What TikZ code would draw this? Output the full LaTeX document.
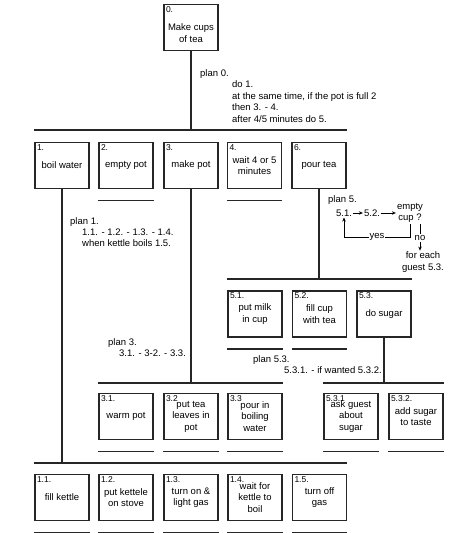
\documentclass[tikz,border=0pt]{standalone}
\usepackage{fontspec}
\setmainfont{Liberation Sans}
\usetikzlibrary{arrows.meta,positioning,calc}

\begin{document}
\begin{tikzpicture}[
    x=1pt, y=-1pt,
    every node/.style={font=\fontsize{9.5}{11.5}\selectfont},
    task/.style={rectangle, draw=black!85, line width=1.2pt, minimum width=54pt,
                 minimum height=46pt, inner sep=1pt, align=center},
    num/.style={anchor=north west, inner sep=2.4pt, font=\fontsize{8.5}{9}\selectfont},
    link/.style={line width=1.4pt, draw=black!85},
    stopline/.style={line width=1.4pt, draw=black!85},
    plan/.style={anchor=north west, inner sep=0pt, align=left},
    arrow/.style={-{Stealth[length=4pt, width=3.5pt]}, line width=0.8pt},
    small/.style={inner sep=1pt, align=center}
]
\useasboundingbox (0,0) rectangle (474,533);

% Top task
\node[task] (t0) at (191,27.5) {\parbox[c][30pt][b]{50pt}{\centering Make cups\\of tea}};
\node[num] at (t0.north west) {0.};

% Level 1
\node[task] (t1) at (62,165.5)  {boil water};
\node[task] (t2) at (126,165.5) {empty pot};
\node[task] (t3) at (191,165.5) {make pot};
\node[task] (t4) at (254.5,165.5) {wait 4 or 5\\minutes};
\node[task] (t5) at (319,165.5) {pour tea};
\node[num] at (t1.north west) {1.};
\node[num] at (t2.north west) {2.};
\node[num] at (t3.north west) {3.};
\node[num] at (t4.north west) {4.};
\node[num] at (t5.north west) {6.};

% Level 2 -- pour tea
\node[task] (t51) at (255,314)   {put milk\\in cup};
\node[task] (t52) at (319.5,314) {fill cup\\with tea};
\node[task] (t53) at (384,314)   {do sugar};
\node[num] at (t51.north west) {5.1.};
\node[num] at (t52.north west) {5.2.};
\node[num] at (t53.north west) {5.3.};

% Level 2 -- make pot, level 3 -- do sugar
\node[task] (t31) at (126,416.5)  {warm pot};
\node[task] (t32) at (191,416.5)  {put tea\\leaves in\\pot};
\node[task] (t33) at (255,416.5)  {pour in\\boiling\\water};
\node[task] (t531) at (351,416.5) {ask guest\\about\\sugar};
\node[task] (t532) at (416,416.5) {add sugar\\to taste};
\node[num] at (t31.north west) {3.1.};
\node[num] at (t32.north west) {3.2};
\node[num] at (t33.north west) {3.3};
\node[num] at (t531.north west) {5.3.1};
\node[num] at (t532.north west) {5.3.2.};

% Level 2 -- boil water
\node[task] (t11) at (62,497.5)    {fill kettle};
\node[task] (t12) at (126,497.5)   {put kettele\\on stove};
\node[task] (t13) at (191,497.5)   {turn on \&\\light gas};
\node[task] (t14) at (255,497.5)   {wait for\\kettle to\\boil};
\node[task] (t15) at (319.5,497.5) {turn off\\gas};
\node[num] at (t11.north west) {1.1.};
\node[num] at (t12.north west) {1.2.};
\node[num] at (t13.north west) {1.3.};
\node[num] at (t14.north west) {1.4.};
\node[num] at (t15.north west) {1.5.};

% Bars
\coordinate (b0)  at (191,130);
\coordinate (b5)  at (319,279);
\coordinate (b3)  at (191,383);
\coordinate (b53) at (384,383);
\coordinate (b1)  at (62,463);

\draw[link] (t0)  -- (b0);
\draw[link] (t1.west |- b0) -- (t5.east |- b0);
\draw[link] (t5)  -- (b5);
\draw[link] (t51.west |- b5) -- (t53.east |- b5);
\draw[link] (t3)  -- (b3);
\draw[link] (t31.west |- b3) -- (t33.east |- b3);
\draw[link] (t53) -- (b53);
\draw[link] (t531.west |- b53) -- (t532.east |- b53);
\draw[link] (t1)  -- (b1);
\draw[link] (t11.west |- b1) -- (t15.east |- b1);

% Stop lines
\foreach \t in {t2,t4,t51,t52,t31,t32,t33,t531,t532,t11,t12,t13,t14,t15}
    \draw[stopline] ($(\t.south west)+(0,11.5)$) -- ($(\t.south east)+(0,11.5)$);

% Plans
\node[plan] (plan0) at (200,69) {plan 0.};
\node[plan] (plan0b) at (232,80.5) {do 1.\\at the same time, if the pot is full 2\\then 3. - 4.\\after 4/5 minutes do 5.};
\node[plan] (plan1) at (70,217) {plan 1.};
\node[plan] (plan1b) at (82,228.5) {1.1. - 1.2. - 1.3. - 1.4.\\when kettle boils 1.5.};
\node[plan] (plan3) at (108,338) {plan 3.};
\node[plan] (plan3b) at (119,349.5) {3.1. - 3-2. - 3.3.};
\node[plan] (plan53) at (253,355) {plan 5.3.};
\node[plan] (plan53b) at (284,366) {5.3.1. - if wanted 5.3.2.};

% Plan 5
\node[plan] (plan5) at (328,195) {plan 5.};
\node[small] (p51) at (344,213) {5.1.};
\node[small] (p52) at (372,213) {5.2.};
\node[small] (cup) at (410,213) {empty\\cup ?};
\node[small] (no) at (420,238) {no};
\node[small] (each) at (423,262) {for each\\guest 5.3.};
\draw[arrow] (p51) -- (p52);
\draw[arrow] (p52) -- (cup);
\draw[arrow] (cup.south) -- ++(0,13) -| node[pos=0.25, fill=white, inner sep=1pt] {yes} (p51.south);
\draw[line width=0.8pt] (cup.south -| no) -- (no.north);
\draw[arrow] (no.south) -- (no.south |- each.north);

\end{tikzpicture}
\end{document}
